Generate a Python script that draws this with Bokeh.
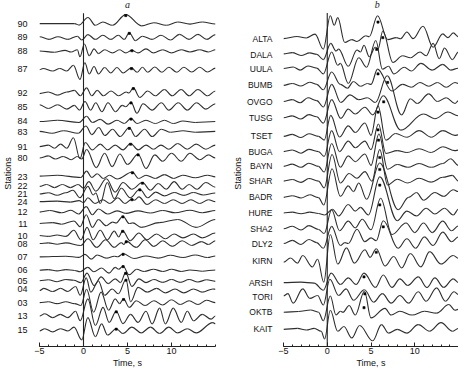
from bokeh.plotting import figure
from bokeh.models import Range1d, FixedTicker, ColumnDataSource, Label
from bokeh.layouts import row
from bokeh.embed import file_html
from bokeh.resources import INLINE

# ---------------- panel a : stations, baselines (trace units), traces (time s, amplitude) ----------------
stations_a = ["90", "89", "88", "87", "92", "85", "84", "83", "91", "80", "23", "22", "21", "24",
              "12", "11", "10", "08", "07", "06", "05", "04", "03", "13", "15"]
offsets_a = [24.3, 38.8, 53, 72, 97, 112, 126.7, 138, 154, 165.3, 185, 195, 203, 211,
             222, 234, 247, 255, 269, 283, 294, 303, 317, 331, 346]

a_90 = [(-5, 0), (-1.0, 0), (-0.5, -1.5), (0.5, 6.5), (1.35, -1.7), (2.2, 1.7), (3.3, -1.7), (4.8, 9.5),
        (6.6, -2.3), (8.0, 1), (9.4, -1.7), (10.7, 1.7), (12.1, -0.5), (13.5, 1.7), (15, -0.3)]
a_89 = [(-5, 0.7), (-3.9, -2), (-2.9, 0.7), (-1.8, -2), (-0.7, 1.3), (-0.2, -2.7), (0.5, 3), (1.35, -2),
        (2.2, 2.3), (3.1, -2), (3.95, 2.3), (4.65, -2), (5.2, 5), (5.9, -3.3), (6.7, 1.3), (7.8, -2),
        (8.8, 2.3), (9.9, -2.7), (10.9, 3.3), (12.0, -2), (13.0, 3.3), (14.0, -2), (15, 3)]
a_88 = [(-5, 0), (-3.3, -1.3), (-2.1, 0.7), (-1.4, -1), (-0.7, 1.3), (-0.4, -6), (0.1, 7.3), (0.65, -5),
        (1.2, 2.3), (1.7, -2.7), (2.4, 1.3), (3.3, -2), (4.1, 1.3), (4.8, -2), (5.5, 0.7), (6.2, -2),
        (7.1, 2.3), (7.95, -2), (9.0, 1.3), (10.0, -2), (11.1, 1.3), (12.1, -1), (13.2, 1.3), (14.2, -1), (15, 1.3)]
a_87 = [(-5, -0.7), (-4.6, 0.7), (-3.5, -2), (-2.7, 0.7), (-1.9, -2), (-1.15, 4), (-0.4, -10.7), (0.15, 6.7),
        (0.65, -5), (1.2, 2.7), (1.7, -5), (2.4, 1.7), (3.1, -4), (3.8, 1.7), (4.5, -4), (5.45, 1.3),
        (6.1, -3.3), (6.7, 2), (7.3, -3.3), (8.1, 2.3), (8.9, -3.3), (9.7, 2), (10.6, -3.3), (11.4, 2),
        (12.3, -3), (13.2, 2), (14.1, -3), (15, 1)]
a_92 = [(-5, -0.7), (-4, 1), (-2.95, -2.3), (-1.9, 1), (-1.04, 2.7), (-0.35, -3), (0.35, 5.3), (0.94, -3),
        (1.56, 2.7), (2.26, -3), (3.13, 2), (4.0, -3), (4.85, 1), (5.15, 0), (5.66, 5.3), (6.4, -4.7),
        (7.29, 2), (8.16, -3), (9.2, 3.7), (10.07, -3), (11.1, 3.7), (12.0, -3), (13.0, 3.7), (14.1, -3), (15, 2)]
a_85 = [(-5, 2.7), (-4, -1.3), (-2.95, 2.7), (-1.9, -2), (-1.04, 2), (-0.45, -3), (0.17, 6), (0.8, -3),
        (1.39, 4.7), (2.09, -4.7), (2.78, 4.7), (3.65, -4.7), (4.4, 2), (4.8, 0.5), (5.4, 5.3), (6.07, -6.3),
        (6.77, 3.7), (7.8, -3), (8.85, 4.7), (9.7, -3), (10.77, 4.7), (11.8, -3), (12.85, 4.7), (13.9, -2), (15, 3.7)]
a_84 = [(-5, -0.3), (-2.95, 1), (-0.5, -1.3), (0.35, 5.3), (1.0, -1.3), (1.9, 2), (2.8, -3), (3.8, 1),
        (4.65, -2.3), (5.4, 3), (6.07, -2.3), (7.1, 1), (8.16, -2.3), (9.2, 1), (10.2, -2.3), (11.3, 0.3),
        (12.7, -1.3), (15, -0.3)]
a_83 = [(-5, 0.7), (-3.6, -1.3), (-2.25, 1.3), (-0.6, -1.3), (0.28, 6.3), (0.94, -2.7), (1.73, 4.7),
        (2.43, -3.7), (3.3, 3), (4.17, -4.7), (5.2, 4.7), (5.9, -4.7), (6.95, 3), (7.8, -4.7), (8.85, 3),
        (9.9, -0.3), (11.3, 1.3), (12.7, -0.3), (15, 0.7)]
a_91 = [(-5, 0.7), (-4.0, 2.3), (-3.3, -1), (-2.6, 3.3), (-1.9, -1), (-1.15, 10), (-0.4, -12), (0.2, 5),
        (1.0, -2.7), (1.9, 3.3), (2.75, -2.7), (3.6, 2.3), (4.5, -2.7), (5.35, 4), (6.2, -2.7), (7.1, 2.3),
        (7.95, -2), (8.8, 2.3), (9.7, -2), (10.7, 4), (11.8, -2), (12.8, 3.3), (13.9, -2), (15, 2.3)]
a_80 = [(-5, 0), (-4.0, 2.3), (-3.2, -1), (-2.3, 1.7), (-1.4, -1.7), (-0.7, 1.7), (-0.2, -1), (0.35, 9),
        (1.45, -10), (2.4, 5), (3.26, -9), (4.13, 4.3), (5.0, -6.7), (6.2, 4), (7.1, -11), (8.1, 3.3),
        (9.0, -3.3), (10.0, 5), (11.1, -3.3), (12.1, 5), (13.2, -1.7), (14.2, 3.3), (15, 0)]
a_23 = [(-5, 0.7), (-3, 1.7), (-0.3, -0.7), (0.35, 6), (0.94, -0.7), (1.56, 3.3), (2.26, -1.7), (2.95, 1.7),
        (3.82, -2.3), (5.56, 5), (6.25, -1.7), (7.1, 1.7), (8.16, -1.7), (9.2, 2.3), (10.24, -1.7),
        (11.28, 1.7), (12.7, -1), (14.1, 1.7), (15, 0)]
a_22 = [(-5, 0), (-4.2, 2), (-3.3, -1.3), (-2.4, 2), (-1.5, -1.3), (-0.6, 2), (0.0, -2), (0.6, 5), (1.4, -5),
        (2.6, 8), (3.6, -6), (4.5, 4), (5.5, -3), (6.7, 4), (7.6, -4), (8.5, 3), (9.4, -3), (10.3, 5),
        (11.2, -3), (12.0, 2), (12.9, -3), (13.9, 4), (15, -1)]
a_21 = [(-5, 0), (-4, 1.3), (-3, -1.3), (-2, 1.3), (-1.2, 4), (-0.4, -4), (0.5, 8), (1.1, -1), (1.4, 1),
        (1.9, -10), (2.7, 12), (3.5, -5), (4.3, 6), (5.3, -4), (6.4, 5), (7.3, -4), (8.2, 2), (9.2, -2),
        (10.3, 1.5), (11.4, -1.5), (12.5, 1.5), (13.6, -1), (15, 1)]
a_24 = [(-5, 0), (-3, 0.5), (-1.5, -0.5), (-0.5, 1), (0.0, -1), (0.5, 4), (1.3, -2), (2.2, 2), (3.0, -2),
        (3.9, 4), (4.7, -2), (5.5, 2.5), (5.8, 1.5), (6.3, 5), (7.2, -3), (8.2, 2), (9.2, -2), (10.2, 2),
        (11.2, -2), (12.2, 2), (13.2, -2), (14.2, 2), (15, 0)]
a_12 = [(-5, 0), (-3.85, 1.7), (-2.47, -0.7), (-1.42, 2), (-0.56, -2), (0.31, 5.7), (1.0, -2.7), (1.7, 3.3),
        (2.74, -2), (3.8, 1.3), (4.8, -1.3), (6.2, 1.3), (7.6, -1), (9.0, 1.7), (10.4, -0.7), (12.1, 2),
        (13.5, -0.7), (15, 1.7)]
a_11 = [(-5, 0), (-3.5, 1), (-2.5, -0.7), (-1.08, 2.7), (-0.38, -3.3), (0.31, 9.3), (1.0, -4), (1.7, 4.3),
        (2.57, -2.3), (3.3, 1.5), (3.7, 0.5), (4.48, 7.7), (5.2, 0), (5.6, 0.7), (6.56, -4), (8.6, 1),
        (10.7, 4.3), (12.8, -4), (15, 4.3)]
a_10 = [(-5, 0.5), (-4, -0.5), (-3, 1), (-2, -0.5), (-1.1, 6), (-0.3, -4), (0.4, 9), (1.1, -4), (1.9, 6),
        (2.7, -4), (3.5, 5), (4.0, -1), (4.45, 5.5), (5.3, -5), (6.3, 3), (7.2, -4), (8.3, 2), (9.3, -3),
        (10.3, 2), (11.3, -2), (12.5, 2), (13.5, -2), (15, 3)]
a_08 = [(-5, 0), (-4, 0.7), (-3, -0.7), (-2, 0.7), (-0.3, -2), (0.5, 5), (1.5, -4), (2.5, 4), (3.5, -4),
        (4.3, 1), (4.6, -1), (4.85, 2.5), (6.0, -4), (7.0, 4), (8.0, -3), (9.0, 3), (10.1, -3), (11.2, 3),
        (12.3, -2), (13.4, 2), (14.2, -1), (15, 3)]
a_07 = [(-5, 0), (-2, 0.7), (-0.5, -0.5), (0.17, 2.7), (0.87, -2.3), (1.56, 2), (2.6, -1.3), (3.5, 0.7),
        (3.9, 0.2), (4.5, 3.3), (5.73, -1.7), (7.1, 1), (8.5, -1.3), (9.9, 1.7), (11.3, -0.7), (12.7, 2),
        (14.1, -0.7), (15, 1)]
a_06 = [(-5, 0), (-4, 0.7), (-3, -0.7), (-2, 0.7), (-1, -0.3), (-0.38, -1.5), (0.49, 3), (1.18, -1.5),
        (2.05, 2.3), (2.9, -3), (3.6, 3), (4.0, 1), (4.5, 4.5), (5.17, -4.7), (6.04, 1), (6.9, -1.3),
        (7.95, 1), (9.0, -1.3), (10.0, 1), (11.1, -1.3), (12.1, 0.3), (13.5, -1), (15, 0.3)]
a_05 = [(-5, 0), (-4, 1), (-3, -1), (-2, 1.3), (-1.1, 0.5), (-0.3, -2), (0.4, 8), (1.2, -5), (2.0, 4),
        (2.8, -3), (3.6, 2), (4.2, -2), (4.8, 8.5), (5.5, -6), (6.3, 2), (7.1, -2), (8.0, 1.3), (9.0, -1.7),
        (10.0, 1.3), (11.0, -1.7), (12.0, 1.3), (13.0, -1.3), (14.0, 1), (15, -0.7)]
a_04 = [(-5, -1.3), (-4.5, 1), (-3.5, -2.3), (-2.6, 1), (-1.77, -2.3), (-0.9, 3), (-0.38, -6.3), (0.31, 12),
        (0.83, -3), (1.7, 8.7), (2.4, -6.3), (3.26, 0.3), (3.96, -4.7), (4.83, 10.3), (5.35, -13), (6.2, 2),
        (7.26, -3), (8.3, 1), (9.3, -3.7), (10.4, 0.3), (11.4, -3.7), (12.5, 0.3), (13.5, -3), (14.7, 0.3), (15, 0)]
a_03 = [(-5, 0), (-4, 1), (-3, -1), (-2, 1), (-1, -1), (-0.3, -3), (0.35, 14), (1.15, -10), (2.0, 11),
        (2.85, -8), (3.6, 4), (4.1, -1), (4.55, 4), (5.2, -5), (6.0, 2), (7.0, -3), (8.0, 2), (9.0, -2.5),
        (10.0, 3), (11.0, -2), (12.0, 2), (13.0, -2), (14.0, 2.5), (15, 0)]
a_13 = [(-5, 0), (-4.4, 2.3), (-3.5, -1.7), (-2.64, 1.7), (-1.77, -1.7), (-0.9, 5), (-0.38, -5), (0.49, 18),
        (1.35, -10), (2.22, 9), (2.92, -6.7), (3.72, 5), (4.48, -8), (5.35, 1.7), (6.2, -6.7), (7.1, 5),
        (7.8, -8.3), (8.65, 8.3), (9.3, -8.3), (10.2, 8.3), (11.1, -6.7), (11.8, 5), (12.5, -5), (13.5, 1.7),
        (14.5, -3.3), (15, 0)]
a_15 = [(-5, -0.7), (-4.4, 1.7), (-3.5, -1.7), (-2.64, 1.7), (-1.77, -0.7), (-1.08, 3.3), (-0.2, -10),
        (0.49, 13.3), (1.35, -6.7), (2.05, 6.7), (2.74, -5), (3.72, 1.7), (4.48, -3.3), (5.5, 3.3),
        (6.56, -2.7), (7.6, 3.3), (8.65, -3.3), (9.7, 3.3), (10.7, -2.7), (11.8, 1.7), (12.8, -2.7),
        (14.7, 8), (15, 7)]

marker_a_station = ["90", "89", "88", "87", "92", "85", "84", "83", "91", "80", "23", "22", "21", "24",
                    "11", "10", "08", "07", "06", "05", "04", "03", "13", "15"]
marker_a_t = [4.8, 5.2, 5.5, 5.45, 5.66, 5.4, 5.4, 5.2, 5.35, 6.2, 5.56, 6.7, 6.4, 5.5,
              4.48, 4.45, 4.85, 4.5, 4.5, 4.8, 4.83, 4.55, 3.72, 3.72]
marker_a_amp = [8.5, 4.3, 0.3, 0.5, 4.5, 4.5, 2.3, 3.8, 3.2, 3.3, 4.2, 3.3, 4.3, 2.0,
                7.0, 4.8, 1.8, 2.7, 3.8, 7.8, 9.5, 3.3, 4.3, 1.2]

# ---------------- panel b ----------------
stations_b = ["ALTA", "DALA", "UULA", "BUMB", "OVGO", "TUSG", "TSET", "BUGA", "BAYN", "SHAR",
              "BADR", "HURE", "SHA2", "DLY2", "KIRN", "ARSH", "TORI", "OKTB", "KAIT"]
offsets_b = [40, 57, 72, 89, 106, 123, 142.5, 158.5, 174, 189.5,
             206.5, 223, 239.5, 255, 273.5, 296, 311.5, 327, 345]

b_ALTA = [(-5, 0), (-3.45, 2.3), (-2.4, 0.7), (-1.4, 4.7), (-0.45, -11), (0.35, 24), (0.8, 14), (1.2, 22),
          (2.0, -4), (2.8, -1), (3.4, -3), (4.4, 3), (4.8, 2), (5.75, 24), (6.9, -1), (7.9, 1), (8.4, 0),
          (9.1, 7), (9.8, 0), (10.95, 13), (12.1, -9), (13.2, 5), (13.8, 1), (14.4, 6), (15, 2)]
b_DALA = [(-5, 1), (-4, 2.3), (-3, -0.7), (-2, 2), (-1.2, 0.5), (-0.45, -5), (0.4, 12), (1.0, 4), (1.3, 6),
          (2.4, -12), (3.4, 5), (3.8, 3), (4.2, 10), (4.8, -2), (5.5, 8), (5.8, 6), (6.35, 25), (7.5, -8),
          (8.6, -1), (9.5, -3), (10.6, 3), (11.3, -1), (12.1, 12), (12.8, -4), (13.4, 7), (14.3, -5), (15, 3)]
b_UULA = [(-5, 0.7), (-3.9, 2.3), (-3.1, -1), (-2.2, 3.3), (-1.2, 1), (-0.45, -5), (0.5, 18), (1.2, 4),
          (1.5, 6), (2.4, -15), (3.6, 12), (4.5, 2), (5.55, 30), (6.3, 0), (7.0, 3), (7.6, -5), (8.8, 2),
          (9.6, -2), (10.7, 6), (12.0, -1), (13.2, 5), (14.1, -1), (15, 1)]
b_BUMB = [(-5, 0), (-4, 2), (-3, -0.7), (-2, 3.3), (-1.2, 1), (-0.45, -4.7), (0.5, 14), (1.5, 1), (2.3, -3),
          (3.0, 4), (3.8, -1), (4.6, 2), (5.0, 1), (5.75, 17), (7.4, -6), (8.6, 1), (9.6, -2), (10.6, 3),
          (11.6, -1), (12.6, 3), (13.6, -2), (14.6, 3), (15, 2)]
b_OVGO = [(-5, 0), (-4, 2), (-3.1, -1.3), (-2.2, 4), (-1.2, 1), (-0.45, -5.7), (0.5, 18), (1.55, -1),
          (2.6, 7), (3.6, 2), (4.6, 4), (5.5, -1), (6.85, 27), (8.5, -14), (9.5, 3), (10.3, -2), (11.6, 8),
          (12.6, 0), (13.6, 4), (14.6, -2), (15, 1)]
b_TUSG = [(-5, 0), (-4, 2), (-3, -1.3), (-2.1, 3.3), (-1.2, 1), (-0.45, -5.7), (0.5, 19), (1.55, -0.7),
          (2.4, 9), (3.2, 4), (4.3, 11), (5.2, 3), (6.4, 23), (8.4, -13), (11.0, 4), (12.3, -1), (13.8, 6), (15, 2)]
b_TSET = [(-5, 0), (-4, 2), (-3, -1.3), (-2.1, 2.7), (-1.0, 0), (-0.35, -4), (0.4, 22), (1.4, -0.7),
          (2.4, 11), (3.2, 4), (4.3, 14), (5.0, 1), (5.8, 32), (6.7, -4), (7.8, 3), (9.1, -1), (10.5, 6),
          (11.9, -1), (13.2, 6), (14.6, 1), (15, 1.5)]
b_BUGA = [(-5, 0), (-4, 1.7), (-3, -1.7), (-2.1, 2.3), (-1.0, 0), (-0.35, -5), (0.5, 22), (1.4, 0),
          (2.4, 11), (3.2, 4), (4.3, 11), (5.0, 2), (5.85, 29), (6.7, -2), (8.0, 1), (9.1, -1), (10.5, 3),
          (11.9, -1), (13.2, 5), (14.6, 1), (15, 1.5)]
b_BAYN = [(-5, 0), (-4, 2.3), (-3, -1), (-2.1, 3.3), (-1.0, 0), (-0.35, -6), (0.5, 24), (1.5, -1),
          (2.4, 11), (3.2, 5), (4.3, 13), (5.0, 1), (5.9, 34), (6.9, -3), (8.0, 2), (9.2, -1), (10.5, 3),
          (11.9, -1), (13.2, 3), (14.1, 8), (15, 1)]
b_SHAR = [(-5, 0), (-4, 1.7), (-3, -1.3), (-2.1, 2.7), (-1.0, 0), (-0.35, -7), (0.55, 28), (1.5, -2),
          (2.5, 8), (3.4, 3), (4.3, 10), (5.1, 0), (6.0, 33), (6.9, -4), (8.0, 2), (9.2, -2), (10.5, 3),
          (11.9, -1), (13.2, 4), (14.3, 6), (15, 0)]
b_BADR = [(-5, 0), (-4, 1.7), (-3, -0.7), (-2, 2.7), (-1.0, -0.3), (-0.4, -8), (0.55, 30), (1.5, 1),
          (2.4, 12), (3.0, 6), (3.6, 15), (4.5, -2), (6.0, 36), (8.1, -13), (9.3, 0), (10.2, 5), (11.0, -3),
          (12.3, 5), (13.3, 1), (14.4, 8), (15, 6)]
b_HURE = [(-5, 0), (-4, 1), (-3, -0.7), (-2, 1), (-1.0, -0.5), (-0.3, -2), (0.6, 4), (1.3, -3), (2.4, 9),
          (3.2, 2), (3.8, 6), (4.7, -2), (6.0, 38), (8.0, -8), (9.1, 2), (10.2, -3), (11.3, 5), (12.3, -1),
          (13.4, 5), (14.4, -2), (15, 4)]
b_SHA2 = [(-5, 0), (-4, 2.7), (-3, -1.3), (-2.1, 3.3), (-1.0, -0.7), (-0.35, -5), (0.5, 20), (1.4, -2),
          (2.4, 8), (3.2, 1), (4.0, 10), (5.0, -1), (6.1, 32), (7.4, -6), (9.0, 6), (10.0, -4), (11.0, 6),
          (12.0, -4), (13.2, 8), (14.2, -2), (15, 3)]
b_DLY2 = [(-5, 0), (-4, 3.3), (-3, -1), (-2.1, 4.3), (-1.2, 1), (-0.45, -5), (0.5, 18), (1.5, -2), (2.0, 1),
          (2.4, 0), (3.4, 15), (4.3, 2), (5.0, 6), (5.6, 3), (6.4, 24), (8.1, -5), (9.1, 5), (10.1, -5),
          (11.1, 7), (12.1, -2), (13.2, 12), (14.2, 2), (15, 7)]
b_KIRN = [(-5, -1), (-4.2, 3.3), (-3.4, -2), (-2.8, 6), (-1.7, -6), (-1.1, 2), (-0.4, -22), (0.35, 28),
          (1.2, -3), (2.2, 14), (3.1, -2), (4.3, 12), (4.9, 4), (5.6, 13), (6.6, -5), (7.6, 5), (8.5, -7),
          (9.5, 8), (10.7, -6), (11.7, 10), (13.0, -3), (14.4, 6), (15, 3)]
b_ARSH = [(-5, 0), (-3, 0.5), (-1.5, -0.5), (-0.45, -8), (0.45, 10), (1.5, -2), (2.4, 5), (3.3, -2),
          (4.2, 10), (5.5, -5), (6.4, 8), (7.4, -5), (8.3, 4), (9.2, -3), (10.4, 6), (11.4, -5), (12.3, 5),
          (13.3, -5), (14.4, 4), (15, 0)]
b_TORI = [(-5, 1.7), (-4.5, 4), (-3.9, -6), (-2.8, 9), (-2.0, -1), (-1.1, 2), (-0.45, -8), (0.3, 19),
          (1.3, 2), (2.15, 9), (3.0, -3), (4.25, 8), (5.3, -5), (6.3, 4), (7.3, -6), (8.3, 2), (9.3, -6),
          (10.4, 6), (11.3, -4), (12.5, 10), (13.5, -4), (14.5, 6), (15, 3)]
b_OKTB = [(-5, 0), (-3.3, 0.7), (-1.9, 2.3), (-1.0, 0), (-0.45, -9), (0.35, 17), (1.0, -3), (1.5, 1),
          (1.8, 0), (2.5, 7), (3.2, -3), (4.25, 22), (5.0, -6), (6.6, 4), (7.3, -3), (8.3, 1), (9.7, -3),
          (11.1, 1), (12.5, -1), (13.9, 8), (14.6, 2), (15, 3)]
b_KAIT = [(-5, 0), (-3.4, 1), (-2.4, -0.7), (-1.5, 1), (-0.7, -2), (-0.3, -10), (0.35, 20), (1.2, -2),
          (1.9, 3), (2.8, -9), (3.7, 4), (5.2, -12), (6.2, 5), (7.0, -4), (8.0, 0), (9.1, -4), (10.4, 5),
          (11.7, -2), (13.0, 7), (14.3, -2), (15, 1)]

marker_b_station = ["ALTA", "DALA", "UULA", "BUMB", "OVGO", "TUSG", "TSET", "BUGA", "BAYN", "SHAR",
                    "BADR", "HURE", "SHA2", "DLY2", "KIRN", "ARSH", "TORI", "OKTB"]
marker_b_t = [5.8, 6.35, 5.65, 5.8, 6.9, 6.45, 5.8, 5.8, 5.86, 6.0, 6.0, 6.0, 6.0, 6.4, 5.6, 4.2, 4.3, 4.2]
marker_b_amp = [17.4, 18, 20.7, 12, 20, 16.7, 25.4, 22.8, 27.5, 24.8, 29.2, 29.3, 25, 17.5, 9.4, 6, 3.7, 4.7]

traces_a = [a_90, a_89, a_88, a_87, a_92, a_85, a_84, a_83, a_91, a_80, a_23, a_22, a_21, a_24,
            a_12, a_11, a_10, a_08, a_07, a_06, a_05, a_04, a_03, a_13, a_15]
traces_b = [b_ALTA, b_DALA, b_UULA, b_BUMB, b_OVGO, b_TUSG, b_TSET, b_BUGA, b_BAYN, b_SHAR,
            b_BADR, b_HURE, b_SHA2, b_DLY2, b_KIRN, b_ARSH, b_TORI, b_OKTB, b_KAIT]

onset_time = 0.0
FONT = "Liberation Sans"
LINE = "#2e2e2e"
TEXT = "#111111"
K = 0.364  # bezier handle fraction giving a half-cosine shape between extrema


def bezier_source(traces, offsets):
    cols = {k: [] for k in ("x0", "y0", "x1", "y1", "cx0", "cy0", "cx1", "cy1")}
    for pairs, off in zip(traces, offsets):
        for (ta, aa), (tb, ab) in zip(pairs[:-1], pairs[1:]):
            dt = tb - ta
            ya, yb = off - aa, off - ab
            cols["x0"].append(ta); cols["y0"].append(ya)
            cols["x1"].append(tb); cols["y1"].append(yb)
            cols["cx0"].append(ta + K * dt); cols["cy0"].append(ya)
            cols["cx1"].append(tb - K * dt); cols["cy1"].append(yb)
    return ColumnDataSource(cols)


def make_panel(letter, letter_x, stations, offsets, traces, m_st, m_t, m_amp,
               width, border_left, border_right, label_standoff, label_size):
    p = figure(width=width, height=370, x_range=Range1d(-5, 15), y_range=Range1d(363, 0),
               output_backend="svg", toolbar_location=None,
               min_border_left=border_left, min_border_right=border_right,
               min_border_top=0, min_border_bottom=22)
    p.outline_line_color = None
    p.grid.visible = False
    p.background_fill_color = "white"
    p.border_fill_color = "white"

    src = bezier_source(traces, offsets)
    p.bezier(x0="x0", y0="y0", x1="x1", y1="y1", cx0="cx0", cy0="cy0", cx1="cx1", cy1="cy1",
             source=src, line_color=LINE, line_width=1.1)

    # zero-time line
    top = min(offsets) - 11 if min(offsets) < 30 else min(offsets) - 27
    p.segment(x0=[onset_time], y0=[top], x1=[onset_time], y1=[363], line_color="#222222", line_width=1.1)

    # picks
    off_map = dict(zip(stations, offsets))
    mx = list(m_t)
    my = [off_map[s] - a for s, a in zip(m_st, m_amp)]
    p.scatter(x=mx, y=my, marker="square", size=2.2, fill_color="black", line_color="black", line_width=0.5)

    p.add_layout(Label(x=letter_x, y=4.5, text=letter, text_align="center", text_baseline="middle",
                       text_font="Liberation Serif", text_font_style="italic", text_font_size="10px",
                       text_color="#222222"))

    xa = p.xaxis[0]
    xa.ticker = FixedTicker(ticks=[-5, 0, 5, 10], minor_ticks=list(range(-5, 16)))
    xa.major_tick_in = 4
    xa.major_tick_out = 0
    xa.minor_tick_in = 2
    xa.minor_tick_out = 0
    xa.axis_line_color = "#222222"
    xa.major_tick_line_color = "#222222"
    xa.minor_tick_line_color = "#222222"
    xa.major_label_text_font = FONT
    xa.major_label_text_font_size = "9px"
    xa.major_label_text_color = TEXT
    xa.major_label_standoff = 1
    xa.axis_label = "Time, s"
    xa.axis_label_text_font = FONT
    xa.axis_label_text_font_size = "9px"
    xa.axis_label_text_font_style = "normal"
    xa.axis_label_text_color = TEXT
    xa.axis_label_standoff = 1

    ya = p.yaxis[0]
    ya.ticker = FixedTicker(ticks=list(offsets))
    ya.major_label_overrides = {o: s for o, s in zip(offsets, stations)}
    ya.axis_line_color = None
    ya.major_tick_line_color = None
    ya.minor_tick_line_color = None
    ya.major_label_text_font = FONT
    ya.major_label_text_font_size = label_size
    ya.major_label_text_color = TEXT
    ya.major_label_standoff = label_standoff
    ya.axis_label = "Stations"
    ya.axis_label_text_font = FONT
    ya.axis_label_text_font_size = "9px"
    ya.axis_label_text_font_style = "normal"
    ya.axis_label_text_color = TEXT
    ya.axis_label_standoff = 1
    return p


pa = make_panel("a", 5.0, stations_a, offsets_a, traces_a, marker_a_station, marker_a_t, marker_a_amp,
                229, 29, 14, 6, "9px")
pb = make_panel("b", 5.7, stations_b, offsets_b, traces_b, marker_b_station, marker_b_t, marker_b_amp,
                229, 42, 0, 5, "8.5px")

layout = row(pa, pb)
open("out.html", "w").write(file_html(layout, INLINE))
